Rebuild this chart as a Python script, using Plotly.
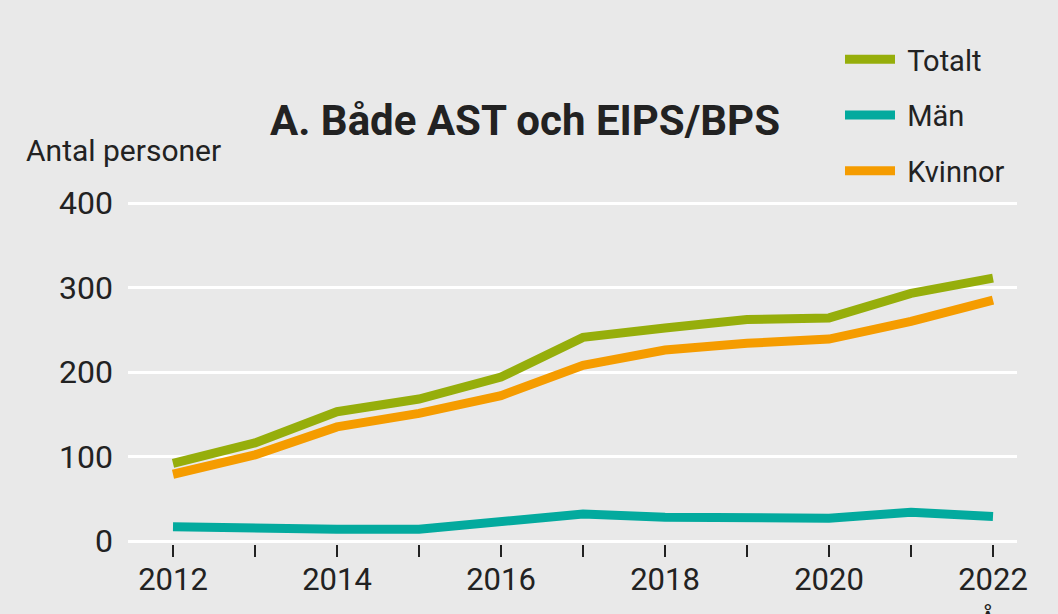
import plotly.graph_objects as go

years = [2012, 2013, 2014, 2015, 2016, 2017, 2018, 2019, 2020, 2021, 2022]
totalt = [92, 116, 153, 168, 194, 241, 252, 262, 264, 293, 311]
man = [17, 15, 14, 14, 22, 32, 28, 28, 27, 34, 29]
kvinnor = [79, 102, 135, 151, 172, 208, 226, 234, 239, 260, 285]
tick_labels = ["2012", "", "2014", "", "2016", "", "2018", "", "2020", "", "2022"]
y_ticks = [0, 100, 200, 300, 400]

FONT = "Roboto, sans-serif"
TXT = "#222222"
W, H = 1058, 614
L, R, T, B = 128, 41, 200, 70
PW, PH = W - L - R, H - T - B
ppy = 82.0
ppu = 0.845
x0 = 2012 - 45 / ppy
x1 = x0 + PW / ppy
ytop = 400 + 3 / ppu
ybot = ytop - PH / ppu

def px(xp):
    return (xp - L) / PW

def py(yp):
    return (H - B - yp) / PH

fig = go.Figure()
series = [("Totalt", totalt, "#96ae0b"), ("Män", man, "#03aa9e"), ("Kvinnor", kvinnor, "#f59c00")]
for name, vals, col in series:
    fig.add_trace(go.Scatter(x=years, y=vals, name="\u00a0" + name, mode="lines",
                             line=dict(color=col, width=9),
                             legendgroup=name))

fig.update_layout(
    width=W, height=H,
    margin=dict(l=L, r=R, t=T, b=B, pad=0),
    paper_bgcolor="#e9e9e9", plot_bgcolor="#e9e9e9",
    font=dict(family=FONT, color=TXT, size=30),
    showlegend=True,
    legend=dict(x=px(840), y=py(34), xanchor="left", yanchor="top",
                bgcolor="rgba(0,0,0,0)", font=dict(size=29, family=FONT, color=TXT),
                tracegroupgap=15, itemwidth=50, traceorder="grouped"),
    xaxis=dict(range=[x0, x1], tickmode="array", tickvals=years, ticktext=tick_labels,
               showgrid=False, zeroline=False, showline=False,
               ticks="outside", ticklen=12, tickwidth=2, tickcolor=TXT,
               ticklabelstandoff=-4,
               tickfont=dict(size=31, family=FONT, color=TXT), fixedrange=True),
    yaxis=dict(range=[ybot, ytop], tickmode="array", tickvals=y_ticks,
               showgrid=True, gridcolor="#ffffff", gridwidth=3,
               zeroline=False, showline=False, ticks="",
               ticklabelstandoff=14,
               tickfont=dict(size=32, family=FONT, color=TXT), fixedrange=True),
    annotations=[
        dict(text="<b>A. Både AST och EIPS/BPS</b>", xref="paper", yref="paper",
             x=px(525), y=py(120), xanchor="center", yanchor="middle", showarrow=False,
             font=dict(size=42, family=FONT, color=TXT)),
        dict(text="Antal personer", xref="paper", yref="paper",
             x=px(24), y=py(150), xanchor="left", yanchor="middle", showarrow=False,
             font=dict(size=30, family=FONT, color=TXT)),
        dict(text="År", xref="paper", yref="paper",
             x=px(993), y=py(601), xanchor="center", yanchor="top", showarrow=False,
             font=dict(size=30, family=FONT, color=TXT)),
    ],
)

fig.write_html("out.html", config={"displayModeBar": False},
               post_script="document.body.style.margin='0';document.body.style.padding='0';")
